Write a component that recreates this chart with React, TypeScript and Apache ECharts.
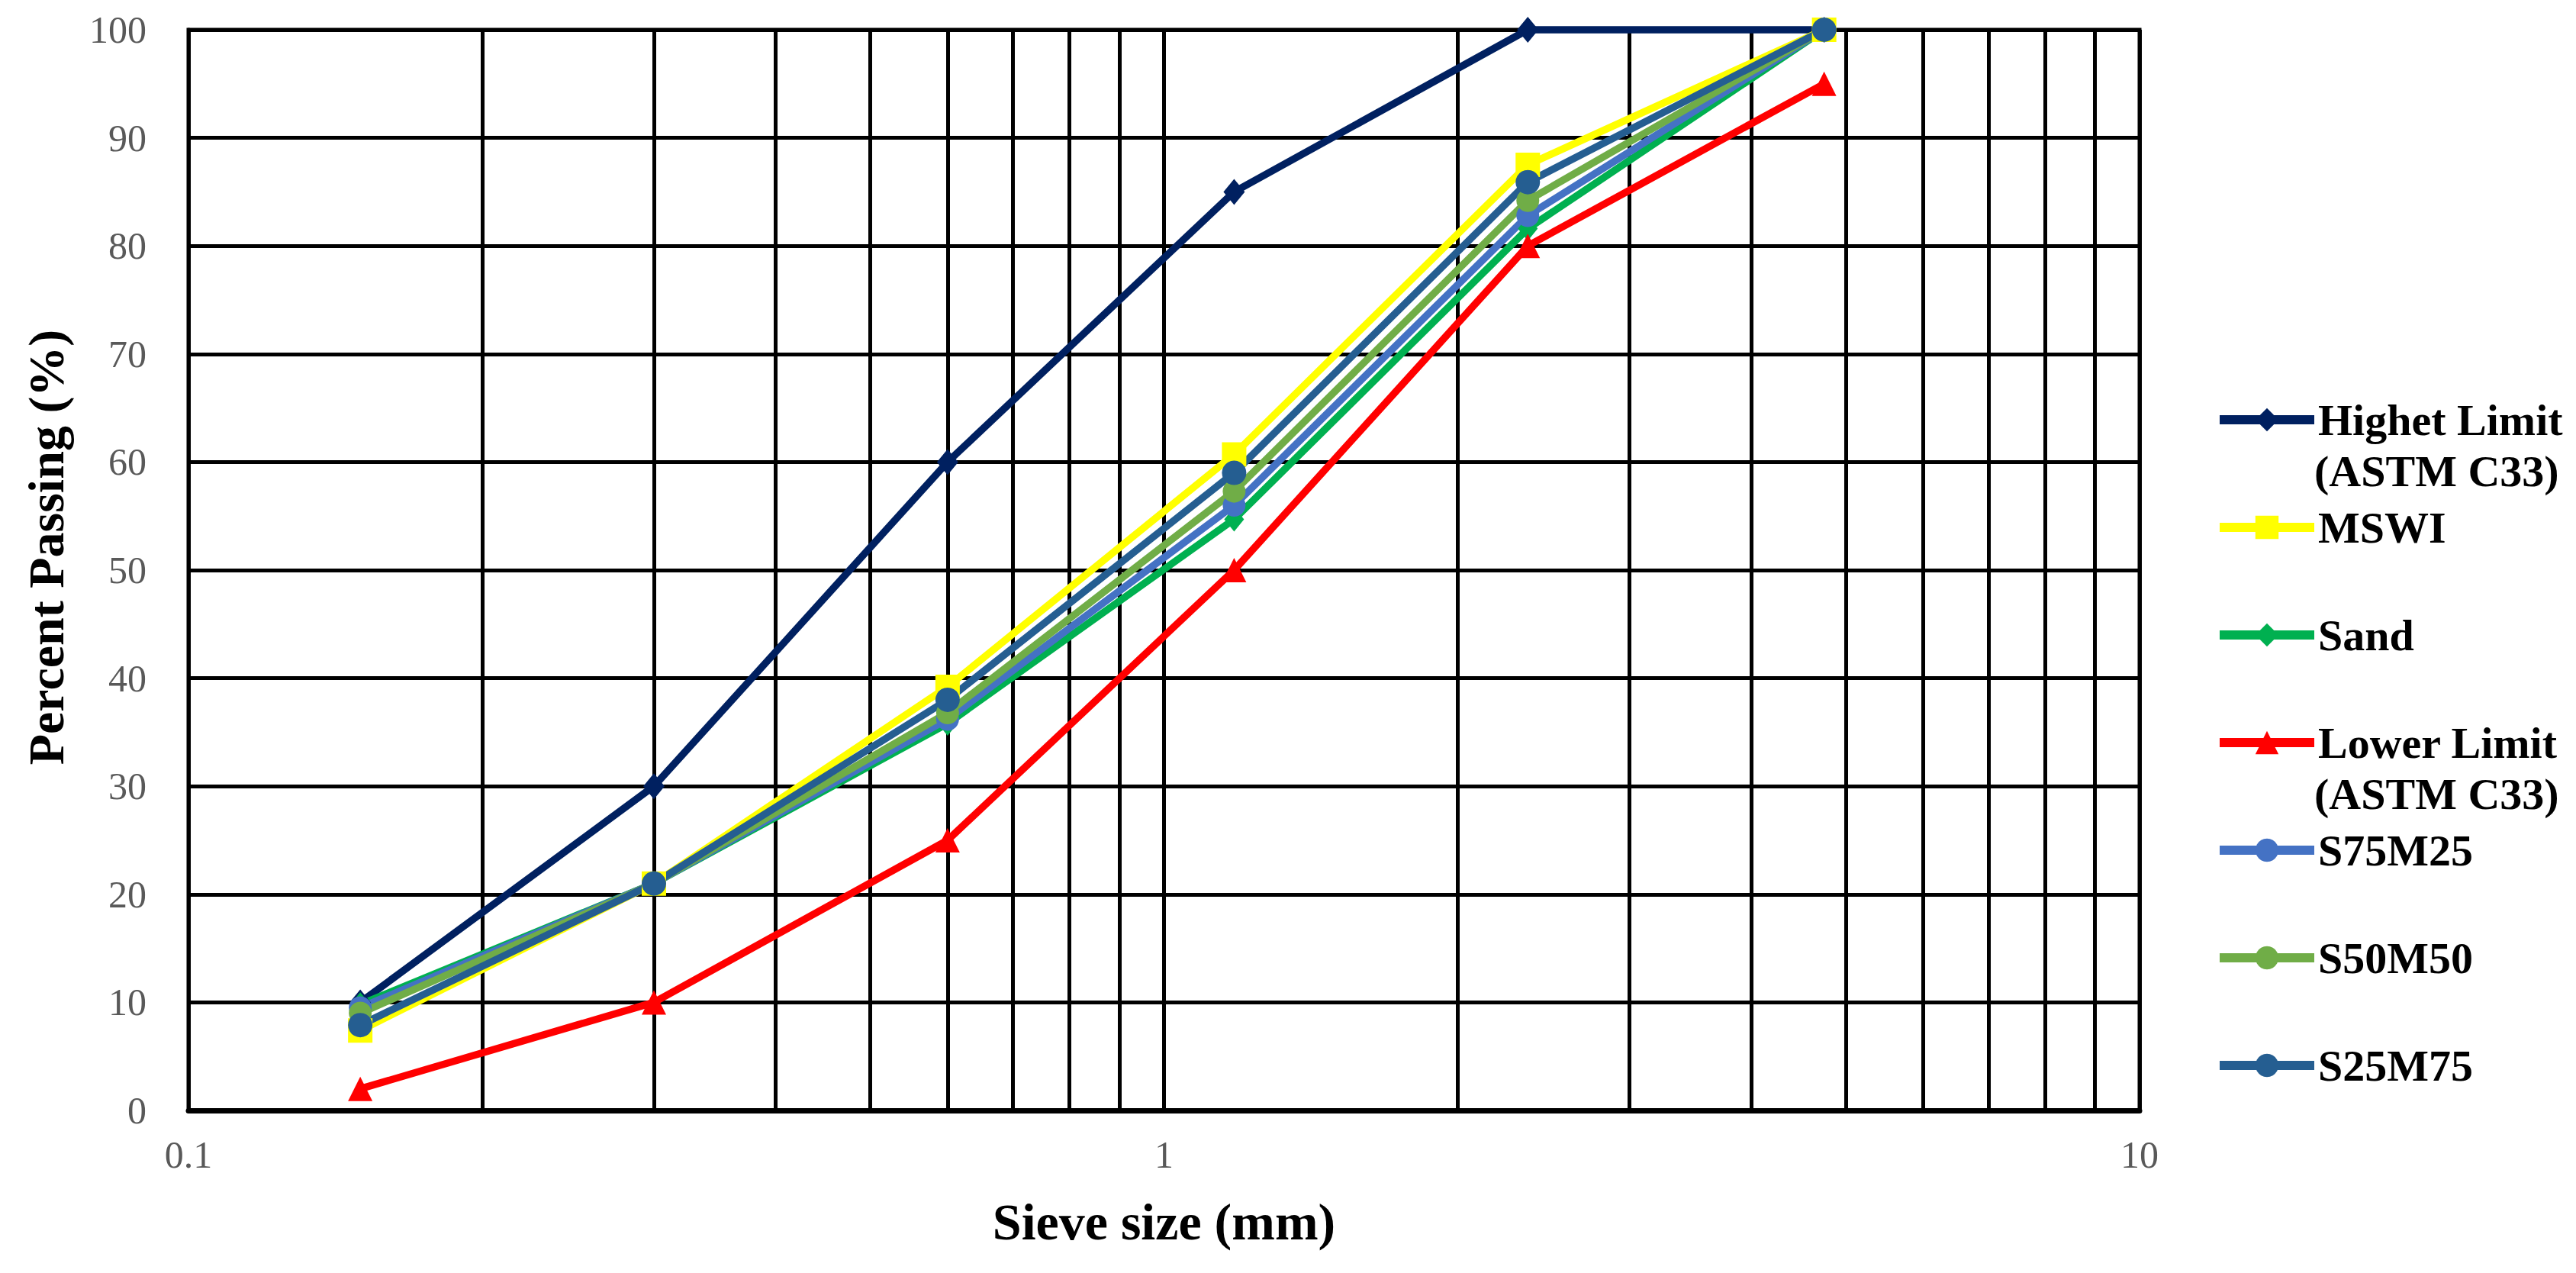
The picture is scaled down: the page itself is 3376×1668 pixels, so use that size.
import React, { useEffect, useRef } from "react";
import * as echarts from "echarts";

const sieveSizes = [0.15, 0.3, 0.6, 1.18, 2.36, 4.75];
const highetLimit = [10, 30, 60, 85, 100, 100];
const mswi = [7.4, 21, 39.2, 60.7, 87.5, 100];
const sand = [9.8, 21, 35.8, 54.7, 81.6, 100];
const lowerLimit = [2, 10, 25, 50, 80, 95];
const s75m25 = [9.5, 21, 36.2, 56, 82.8, 100];
const s50m50 = [9, 21, 36.8, 57.3, 84.2, 100];
const s25m75 = [7.9, 21, 38, 59, 85.9, 100];
const minorGridX = [0.2, 0.3, 0.4, 0.5, 0.6, 0.7, 0.8, 0.9, 2, 3, 4, 5, 6, 7, 8, 9];

const FONT = "'Liberation Serif', 'Times New Roman', serif";

const seriesDefs = [
  { name: "Highet Limit (ASTM C33)", values: highetLimit, color: "#002060", symbol: "diamond", size: [28, 34] },
  { name: "MSWI", values: mswi, color: "#FFFF00", symbol: "rect", size: 32 },
  { name: "Sand", values: sand, color: "#00B050", symbol: "diamond", size: [26, 32] },
  { name: "Lower Limit (ASTM C33)", values: lowerLimit, color: "#FF0000", symbol: "triangle", size: 32 },
  { name: "S75M25", values: s75m25, color: "#4472C4", symbol: "circle", size: 30 },
  { name: "S50M50", values: s50m50, color: "#70AD47", symbol: "circle", size: 30 },
  { name: "S25M75", values: s25m75, color: "#255E91", symbol: "circle", size: 32 },
];

export default function App() {
  const ref = useRef<HTMLDivElement>(null);
  useEffect(() => {
    if (!ref.current) return;
    const chart = echarts.init(ref.current, undefined, { renderer: "svg" });
    const series: any[] = [
      {
        type: "line",
        name: "grid",
        data: [],
        silent: true,
        markLine: {
          silent: true,
          z: 1,
          symbol: ["none", "none"],
          label: { show: false },
          animation: false,
          lineStyle: { color: "#000", width: 5, type: "solid" },
          emphasis: { disabled: true },
          data: minorGridX.map((v) => ({ xAxis: v })),
        },
      },
      ...seriesDefs.map((s) => ({
        type: "line",
        name: s.name,
        data: sieveSizes.map((x, i) => [x, s.values[i]]),
        symbol: s.symbol,
        symbolSize: s.size,
        showSymbol: true,
        clip: false,
        z: 3,
        lineStyle: { color: s.color, width: 9.5 },
        itemStyle: { color: s.color },
        emphasis: { disabled: true },
      })),
    ];
    chart.setOption({
      animation: false,
      backgroundColor: "#ffffff",
      textStyle: { fontFamily: FONT },
      grid: {
        left: 247,
        right: 572,
        top: 39,
        bottom: 213,
        show: true,
        borderColor: "#000",
        borderWidth: 5,
        backgroundColor: "transparent",
      },
      legend: {
        orient: "vertical",
        left: 2903,
        top: 520,
        padding: 0,
        itemWidth: 124,
        itemHeight: 38,
        itemGap: 81,
        lineStyle: { width: 12 },
        textStyle: { fontSize: 58, fontWeight: "bold", color: "#000", fontFamily: FONT, lineHeight: 60 },
        formatter: (name: string) => name.split(" (")[0],
        data: seriesDefs.map((s) => s.name),
      },
      graphic: [
        { type: "text", left: 3033, top: 618 - 30, style: { text: "(ASTM C33)", font: `bold 58px ${FONT}`, fill: "#000" } },
        { type: "text", left: 3033, top: 1041 - 30, style: { text: "(ASTM C33)", font: `bold 58px ${FONT}`, fill: "#000" } },
      ],
      xAxis: {
        type: "log",
        logBase: 10,
        min: 0.1,
        max: 10,
        name: "Sieve size (mm)",
        nameLocation: "middle",
        nameGap: 112,
        nameTextStyle: { fontSize: 68, fontWeight: "bold", color: "#000", fontFamily: FONT },
        axisLine: { show: true, lineStyle: { color: "#000", width: 7 } },
        axisTick: { show: false },
        axisLabel: {
          fontSize: 50,
          color: "#595959",
          fontFamily: FONT,
          margin: 33,
          formatter: (v: number) => String(+Number(v).toPrecision(3)),
        },
        splitLine: { show: true, lineStyle: { color: "#000", width: 5 } },
      },
      yAxis: {
        type: "value",
        min: 0,
        max: 100,
        interval: 10,
        name: "Percent Passing (%)",
        nameLocation: "middle",
        nameGap: 154,
        nameTextStyle: { fontSize: 66, fontWeight: "bold", color: "#000", fontFamily: FONT, padding: [0, 0, 0, 60] },
        axisLine: { show: true, lineStyle: { color: "#000", width: 5 } },
        axisTick: { show: false },
        axisLabel: { fontSize: 50, color: "#595959", fontFamily: FONT, margin: 55 },
        splitLine: { show: true, lineStyle: { color: "#000", width: 5 } },
      },
      series,
    });
    return () => chart.dispose();
  }, []);
  return (
    <div
      ref={ref}
      style={{ position: "absolute", left: 0, top: 0, width: 3376, height: 1668, background: "#fff" }}
    />
  );
}
